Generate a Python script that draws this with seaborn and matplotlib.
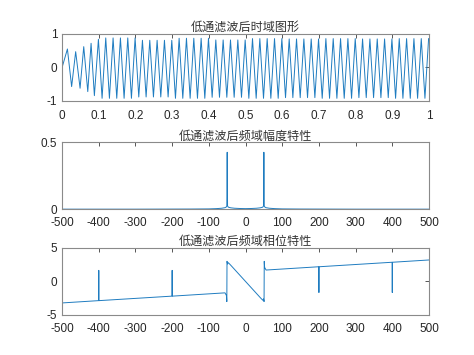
import numpy as np
import pandas as pd
import matplotlib
matplotlib.use("Agg")
import matplotlib.pyplot as plt
import seaborn as sns

# ---- data ----
# time domain: start-up transient extrema, then steady 50 Hz extrema
early_t = [0.0, 0.0145, 0.026, 0.037, 0.049, 0.059, 0.070, 0.079, 0.088]
early_v = [0.0, 0.55, -0.57, 0.47, -0.62, 0.62, -0.72, 0.72, -0.84]
block_peak = [0.84, 0.88, 0.81, 0.87, 0.82, 0.86, 0.85, 0.86, 0.85, 0.86]
block_trough = [-0.92, -0.92, -0.88, -0.92, -0.89, -0.92, -0.9, -0.92, -0.9, -0.92]

# amplitude spectrum
spec_f = [-500, -300, -150, -100, -80, -65, -56, -53, -51, -50, -49, -47,
          -40, -30, -15, 0, 15, 30, 40, 47, 49, 50, 51, 53, 56, 65, 80, 100,
          150, 300, 500]
spec_a = [0.001, 0.001, 0.002, 0.003, 0.005, 0.008, 0.012, 0.016, 0.025, 0.425,
          0.025, 0.016, 0.011, 0.008, 0.006, 0.005, 0.006, 0.008, 0.011, 0.016,
          0.025, 0.425, 0.025, 0.016, 0.012, 0.008, 0.005, 0.003, 0.002, 0.001,
          0.001]

# phase spectrum
phase_f = [-500, -499, -400.5, -400, -399.5, -200.5, -200, -199.5, -56, -52,
           -51, -50.5, -49, -47, -40, -30, -20, -10, 0, 10, 20, 30, 40, 47, 49,
           50.5, 51, 52, 56, 199.5, 200, 200.5, 399.5, 400, 400.5, 500]
phase_v = [3.2, -3.2, -2.86, 1.65, -2.86, -2.19, 1.65, -2.19, -1.7, -2.1,
           -3.0, 3.0, 2.6, 2.8, 2.4, 1.8, 1.2, 0.6, 0.0, -0.6, -1.2, -1.8, -2.4,
           -2.8, -2.6, -3.0, 3.0, 2.1, 1.7, 2.19, -1.65, 2.19, 2.86, -1.65, 2.86,
           3.2]

titles = ["低通滤波后时域图形", "低通滤波后频域幅度特性", "低通滤波后频域相位特性"]

# build the steady-state extrema table
steady_t = np.round(np.arange(0.099, 1.0, 0.01), 4)
steady_v = []
for i, t in enumerate(steady_t):
    blk = min(int(t * 10), 9)
    steady_v.append(block_peak[blk] if i % 2 == 0 else block_trough[blk])
time_df = pd.DataFrame({"t": list(early_t) + list(steady_t) + [1.0],
                        "v": list(early_v) + steady_v + [0.86]})
spec_df = pd.DataFrame({"f": spec_f, "a": spec_a})
phase_df = pd.DataFrame({"f": phase_f, "p": phase_v})

sns.set_theme(style="white")
plt.rcParams["font.family"] = ["Liberation Sans", "Noto Sans CJK SC", "DejaVu Sans"]
plt.rcParams["axes.unicode_minus"] = False

line_color = "#1f7cc0"
edge = "#8a8a8a"

fig = plt.figure(figsize=(4.74, 3.55), dpi=100)
fig.patch.set_facecolor("white")
positions = [[0.131, 0.7155, 0.774, 0.189],
             [0.131, 0.4104, 0.774, 0.189],
             [0.131, 0.1127, 0.774, 0.189]]
axes = [fig.add_axes(p) for p in positions]

sns.lineplot(data=time_df, x="t", y="v", ax=axes[0], color=line_color,
             lw=0.7, sort=False, estimator=None)
sns.lineplot(data=spec_df, x="f", y="a", ax=axes[1], color=line_color,
             lw=0.7, sort=False, estimator=None)
sns.lineplot(data=phase_df, x="f", y="p", ax=axes[2], color=line_color,
             lw=0.7, sort=False, estimator=None)

axes[0].set_xlim(0, 1)
axes[0].set_ylim(-1, 1)
axes[0].set_xticks(np.round(np.arange(0, 1.01, 0.1), 1))
axes[0].set_xticklabels(["0", "0.1", "0.2", "0.3", "0.4", "0.5", "0.6",
                         "0.7", "0.8", "0.9", "1"])
axes[0].set_yticks([-1, 0, 1])

axes[1].set_xlim(-500, 500)
axes[1].set_ylim(0, 0.5)
axes[1].set_yticks([0, 0.5])
axes[1].set_yticklabels(["0", "0.5"])

axes[2].set_xlim(-500, 500)
axes[2].set_ylim(-5, 5)
axes[2].set_yticks([-5, 0, 5])

for k, (ax, title) in enumerate(zip(axes, titles)):
    ax.set_facecolor("white")
    ax.set_xlabel("")
    ax.set_ylabel("")
    if k > 0:
        ax.set_xticks(range(-500, 501, 100))
    for s in ax.spines.values():
        s.set_visible(True)
        s.set_color(edge)
        s.set_linewidth(0.8)
    ax.tick_params(direction="in", length=3, width=0.7, color="#555555",
                   top=True, right=True, labelsize=8.5, labelcolor="#262626")
    ax.tick_params(axis="x", pad=6.5 if k == 0 else 5.5)
    ax.tick_params(axis="y", pad=3.5)
    ax.set_title(title, fontsize=8.7, color="#333333", pad=2,
                 family=["Noto Sans CJK SC", "DejaVu Sans"])

fig.savefig("out.png", dpi=100, facecolor="white")
